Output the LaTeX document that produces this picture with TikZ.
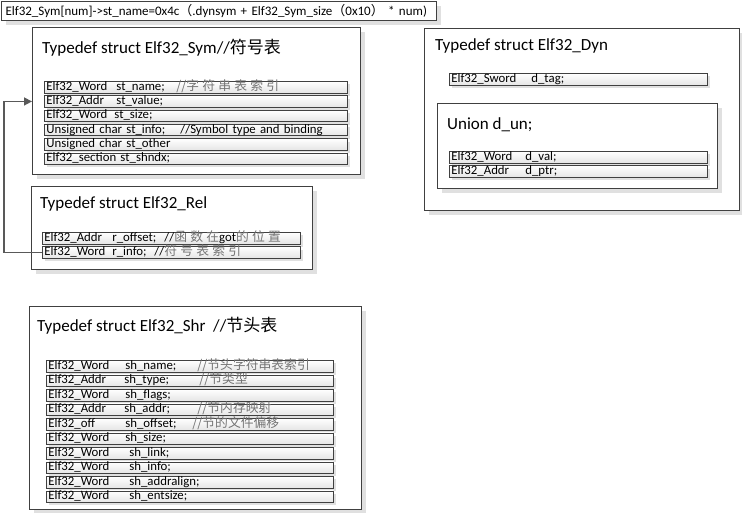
\documentclass[tikz,border=0pt]{standalone}
\usepackage{fontspec}
\setmainfont{Carlito}
\newfontfamily\cjk{Noto Sans CJK SC}
\newfontfamily\cjkwide[LetterSpace=25]{Noto Sans CJK SC}
\usetikzlibrary{positioning,shadows,arrows.meta}
\newcommand{\zh}[1]{{\cjk\color{black!55}#1}}
\newcommand{\zhw}[1]{{\cjkwide\color{black!55}#1}}
\newcommand{\col}[2]{\makebox[#1pt][l]{#2}}
\begin{document}
\begin{tikzpicture}[x=1pt,y=-1pt,
    box/.style={draw=black!75,line width=1pt,fill=white,inner sep=0pt,anchor=north west,
        drop shadow={shadow xshift=4pt,shadow yshift=-4pt,fill=black!12,opacity=1}},
    field/.style={draw=black!75,line width=0.8pt,top color=white,bottom color=black!10,
        drop shadow={shadow xshift=3pt,shadow yshift=-3pt,fill=black!12,opacity=1},
        text width=#1,inner xsep=2pt,inner ysep=0pt,text height=8.7pt,text depth=2.5pt,
        minimum height=11.5pt,align=left,font=\fontsize{12.8}{12.8}\selectfont},
    title/.style={font=\fontsize{17}{17}\selectfont,inner sep=0pt,anchor=base west},
    link/.style={draw=black!65,line width=1.5pt,-{Triangle[length=8pt,width=8pt]}},
    node distance=2pt]
\useasboundingbox (0,0) rectangle (742,512);
\tikzset{every node/.append style={text=black}}
%\tikzset{every node/.style={font=\small}}
\node[box,text width=427pt,inner xsep=4pt,minimum height=19pt,align=left,
    anchor=north west,font=\fontsize{13}{13}\selectfont] (formula) at (1,1)
    {Elf32\_Sym[num]->st\_name=0x4c{\cjk （}.dynsym + Elf32\_Sym\_size{\cjk （}0x10{\cjk ）} * num)};

% symbol table
\node[box,minimum width=328pt,minimum height=147pt] (sym) at (32,27) {};
\node[title] (symtitle) at (42,53) {Typedef struct Elf32\_Sym//{\cjk 符号表}};
\node[field=299pt,anchor=north west] (symname) at (44,81)
    {\col{70}{Elf32\_Word}\col{60}{st\_name;}\zh{//}\zhw{字符串表索引}};
\node[field=299pt,below=of symname] (symvalue) {\col{70}{Elf32\_Addr}st\_value;};
\node[field=299pt,below=of symvalue] (symsize) {\col{68}{Elf32\_Word}st\_size;};
\node[field=299pt,below=of symsize] (syminfo)
    {\col{134}{Unsigned char st\_info;}//Symbol type and binding};
\node[field=299pt,below=of syminfo] (symother) {Unsigned char st\_other};
\node[field=299pt,below=of symother] (symshndx) {Elf32\_section st\_shndx;};

% relocation
\node[box,minimum width=281pt,minimum height=83pt] (rel) at (31,186) {};
\node[title] (reltitle) at (40,208) {Typedef struct Elf32\_Rel};
\node[field=254pt,anchor=north west] (reloffset) at (42,232)
    {\col{68}{Elf32\_Addr}\col{52}{r\_offset;}//\zhw{函数在}got\zhw{的位置}};
\node[field=254pt,below=of reloffset] (relinfo)
    {\col{68}{Elf32\_Word}\col{42}{r\_info;}//\zhw{符号表索引}};

% dynamic
\node[box,minimum width=315pt,minimum height=182pt] (dyn) at (424,28) {};
\node[title] (dyntitle) at (435,50) {Typedef struct Elf32\_Dyn};
\node[field=254pt,anchor=north west] (dyntag) at (449,73) {\col{80}{Elf32\_Sword}d\_tag;};
\node[box,minimum width=280pt,minimum height=85pt] (union) at (437,103) {};
\node[title] (uniontitle) at (447,129) {Union d\_un;};
\node[field=254pt,anchor=north west] (dunval) at (449,151) {\col{74}{Elf32\_Word}d\_val;};
\node[field=254pt,below=of dunval] (dunptr) {\col{74}{Elf32\_Addr}d\_ptr;};

% section header
\node[box,minimum width=332pt,minimum height=203pt] (shr) at (29,306) {};
\node[title] (shrtitle) at (37,331) {Typedef struct Elf32\_Shr\ \ //{\cjk 节头表}};
\node[field=283pt,anchor=north west] (shname) at (46,360)
    {\col{77}{Elf32\_Word}\col{72}{sh\_name;}\zh{//节头字符串表索引}};
\node[field=283pt,below=2.2pt of shname] (shtype)
    {\col{76}{Elf32\_Addr}\col{75}{sh\_type;}\zh{//节类型}};
\node[field=283pt,below=2.2pt of shtype] (shflags) {\col{77}{Elf32\_Word}sh\_flags;};
\node[field=283pt,below=2.2pt of shflags] (shaddr)
    {\col{76}{Elf32\_Addr}\col{73}{sh\_addr;}\zh{//节内存映射}};
\node[field=283pt,below=2.2pt of shaddr] (shoffset)
    {\col{77}{Elf32\_off}\col{67}{sh\_offset;}\zh{//节的文件偏移}};
\node[field=283pt,below=2.2pt of shoffset] (shsize) {\col{77}{Elf32\_Word}sh\_size;};
\node[field=283pt,below=2.2pt of shsize] (shlink) {\col{81}{Elf32\_Word}sh\_link;};
\node[field=283pt,below=2.2pt of shlink] (shinfo) {\col{81}{Elf32\_Word}sh\_info;};
\node[field=283pt,below=2.2pt of shinfo] (shaddralign) {\col{81}{Elf32\_Word}sh\_addralign;};
\node[field=283pt,below=2.2pt of shaddralign] (shentsize) {\col{81}{Elf32\_Word}sh\_entsize;};

\draw[link] (relinfo.west) -- ++(-38,0) |- (sym.west |- symvalue);
\end{tikzpicture}
\end{document}
